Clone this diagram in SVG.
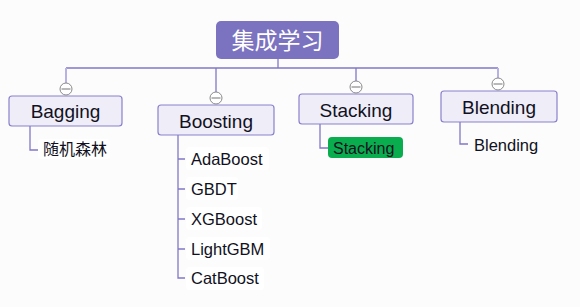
<svg xmlns="http://www.w3.org/2000/svg" width="580" height="307" viewBox="0 0 580 307">
<style>
.bg{fill:#fcfcfd}
.topic{fill:#efedf8;stroke:#8a80cc;stroke-width:1.2}
.ln{fill:none;stroke:#8077c8;stroke-width:1.3}
.lnl{fill:none;stroke:#b8b2e4;stroke-width:2}
.tog circle{fill:#fff;stroke:#8a8a8a;stroke-width:1}
.tog line{stroke:#8a8a8a;stroke-width:1.2}
.t{font-family:"Liberation Sans","Noto Sans CJK SC",sans-serif;fill:#111122}
.tt{font-size:19px;text-anchor:middle}
.ct{font-size:16.5px}
.lbg{fill:#ffffff}
</style>
<rect class="bg" width="580" height="307"/>
<g id="connectors">
<path class="ln" d="M278 59V68M66 68H498"/>
<path class="lnl" d="M66 68V83M498 68V78"/>
<path class="ln" d="M216 68V92M356 68V81M30 126V150H38M178 135V278H185M178 159H185M178 189H185M178 219H185M178 249H185M320 124V148H328M460 122V144H468"/>
</g>
<g id="root">
<rect x="216" y="21" width="123" height="38" rx="5" fill="#7b72c0"/>
<text class="t" x="277.5" y="49" font-size="23" text-anchor="middle" style="fill:#fff">集成学习</text>
</g>
<g id="bagging">
<rect class="topic" x="9" y="96" width="113" height="30" rx="3"/>
<text class="t tt" x="65.5" y="118">Bagging</text>
<g class="tog"><circle cx="66" cy="89" r="6"/><line x1="61.5" y1="89" x2="70.5" y2="89"/></g>
</g>
<g id="rf">
<rect class="lbg" x="38" y="139" width="72" height="20" rx="4"/>
<text class="t" x="43" y="155" font-size="16">随机森林</text>
</g>
<g id="boosting">
<rect class="topic" x="158" y="105" width="116" height="30" rx="3"/>
<text class="t tt" x="216" y="128">Boosting</text>
<g class="tog"><circle cx="216" cy="98" r="6"/><line x1="211.5" y1="98" x2="220.5" y2="98"/></g>
</g>
<g id="adaboost"><rect class="lbg" x="186" y="147" width="83" height="23" rx="4"/><text class="t ct" x="191" y="165">AdaBoost</text></g>
<g id="gbdt"><rect class="lbg" x="186" y="177" width="52" height="23" rx="4"/><text class="t ct" x="191" y="195">GBDT</text></g>
<g id="xgboost"><rect class="lbg" x="186" y="207" width="76" height="23" rx="4"/><text class="t ct" x="191" y="225">XGBoost</text></g>
<g id="lightgbm"><rect class="lbg" x="186" y="237" width="84" height="23" rx="4"/><text class="t ct" x="191" y="255">LightGBM</text></g>
<g id="catboost"><rect class="lbg" x="186" y="267" width="78" height="23" rx="4"/><text class="t ct" x="191" y="284">CatBoost</text></g>
<g id="stacking">
<rect class="topic" x="299" y="94" width="114" height="30" rx="3"/>
<text class="t tt" x="356" y="117">Stacking</text>
<g class="tog"><circle cx="356" cy="87" r="6"/><line x1="351.5" y1="87" x2="360.5" y2="87"/></g>
</g>
<g id="stacking-leaf">
<rect x="328" y="137" width="75" height="21" rx="4" fill="#0aad4e"/>
<text class="t" x="333" y="154" font-size="16">Stacking</text>
</g>
<g id="blending">
<rect class="topic" x="441" y="91" width="116" height="31" rx="3"/>
<text class="t tt" x="499" y="114">Blending</text>
<g class="tog"><circle cx="498" cy="84" r="6"/><line x1="493.5" y1="84" x2="502.5" y2="84"/></g>
</g>
<g id="blending-leaf">
<text class="t ct" x="474" y="151">Blending</text>
</g>
</svg>
